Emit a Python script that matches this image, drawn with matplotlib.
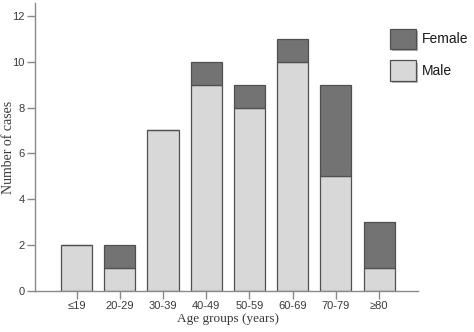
import matplotlib.pyplot as plt
import matplotlib.patheffects as pe
import numpy as np

age_groups = ['≤19', '20-29', '30-39', '40-49', '50-59', '60-69', '70-79', '≥80']
male = [2, 1, 7, 9, 8, 10, 5, 1]
female = [0, 1, 0, 1, 1, 1, 4, 2]
y_ticks = [0, 2, 4, 6, 8, 10, 12]

axis_col = '#8a8a8a'
text_col = '#3a3a3a'

fig = plt.figure(figsize=(4.74, 3.32), dpi=100)
ax = fig.add_axes([0.074, 0.124, 0.808, 0.866])

x = np.arange(len(age_groups))
ax.bar(x, male, width=0.72, color='#d8d8d8', edgecolor='#505050',
       linewidth=0.9, label='Male', zorder=2)
ax.bar(x, female, width=0.72, bottom=male, color='#737373',
       edgecolor='#505050', linewidth=0.9, label='Female', zorder=2)

ax.set_xlim(-0.96, 7.9)
ax.set_ylim(0, 12.55)
ax.set_xticks(x)
ax.set_xticklabels(age_groups)
ax.set_yticks(y_ticks)

for side in ['top', 'right']:
    ax.spines[side].set_visible(False)
for side in ['left', 'bottom']:
    ax.spines[side].set_color(axis_col)
    ax.spines[side].set_linewidth(1.0)

ax.tick_params(axis='both', colors=axis_col, length=6, width=1.0,
               labelcolor=text_col, labelsize=8, pad=1.5)
for lbl in ax.get_xticklabels() + ax.get_yticklabels():
    lbl.set_fontfamily('Liberation Sans')

ax.set_xlabel('Age groups (years)', family='Liberation Serif', fontsize=9.5,
              color=text_col)
ax.set_ylabel('Number of cases', family='Liberation Serif', fontsize=10,
              color=text_col)
ax.xaxis.set_label_coords(0.505, -0.076)
ax.yaxis.set_label_coords(-0.052, 0.5)

# legend: Female above Male, boxes with a soft drop shadow
handles, labels = ax.get_legend_handles_labels()
leg = fig.legend(handles[::-1], labels[::-1], loc='upper left',
                 bbox_to_anchor=(0.823, 0.914), frameon=False,
                 prop={'family': 'Liberation Sans', 'size': 10},
                 handlelength=1.85, handleheight=1.85, labelspacing=0.85,
                 handletextpad=0.45, borderpad=0, borderaxespad=0)
for txt in leg.get_texts():
    txt.set_color('#1a1a1a')
for p in leg.get_patches():
    p.set_path_effects([pe.SimplePatchShadow(offset=(1.5, -1.5), alpha=0.35),
                        pe.Normal()])

plt.savefig('out.png', dpi=100)
